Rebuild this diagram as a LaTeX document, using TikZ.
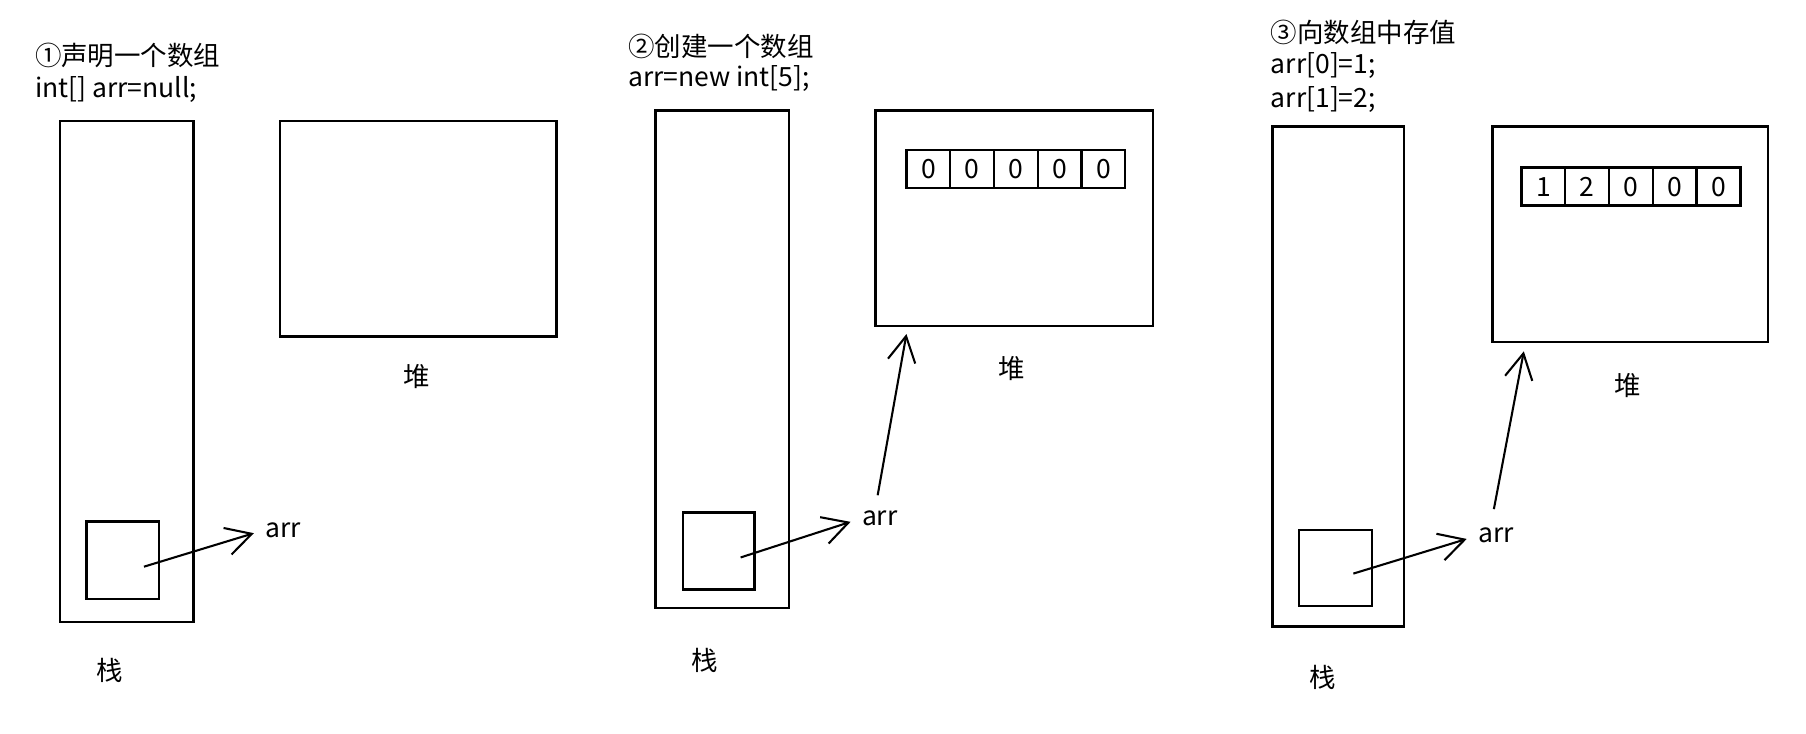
\documentclass[tikz,border=0pt]{standalone}
\usepackage{fontspec}
\setmainfont{Noto Sans CJK SC}
\usetikzlibrary{arrows.meta}
\tikzset{
  box/.style={draw, line width=1.1pt},
  cell/.style={draw, line width=1pt, minimum width=19pt, minimum height=16.5pt, inner sep=0pt, font=\fontsize{11.5}{13}\selectfont, anchor=west},
  ptr/.style={line width=0.9pt, -{Straight Barb[length=11pt,width=12pt,line width=0.9pt]}},
  lbl/.style={font=\fontsize{11.5}{13}\selectfont, inner sep=0pt},
  txt/.style={font=\fontsize{11.5}{13.5}\selectfont, inner sep=0pt, anchor=west},
}
\begin{document}
\begin{tikzpicture}[x=0.5pt,y=-0.5pt]
\useasboundingbox (0,0) rectangle (1568,637);
% panel 1
\node[txt] (t1) at (30,48) {①声明一个数组};
\node[txt] (c1) at (30,78) {int[] arr=null;};
\draw[box] (52,105) rectangle (168,540);
\draw[box] (75,453) rectangle (138,520);
\coordinate (p1) at (125,492);
\node[lbl, anchor=west] (a1) at (230,460) {arr};
\draw[ptr, shorten >=5pt] (p1) -- (a1.west);
\draw[box] (243,105) rectangle (483,292);
\node[lbl] (h1) at (362,327) {堆};
\node[lbl] (s1) at (95,582) {栈};
% panel 2
\node[txt] (t2) at (545,40) {②创建一个数组};
\node[txt] (c2) at (545,68) {arr=new int[5];};
\draw[box] (569,96) rectangle (685,528);
\draw[box] (593,445) rectangle (655,512);
\coordinate (p2) at (643,484);
\node[lbl, anchor=west] (a2) at (748,450) {arr};
\draw[ptr, shorten >=5pt] (p2) -- (a2.west);
\draw[box] (760,96) rectangle (1001,283);
\foreach \i in {0,...,4} \node[cell] (m\i) at (786+38*\i,147) {0};
\coordinate (q2) at (762,430);
\coordinate (r2) at (787,290);
\draw[ptr] (q2) -- (r2);
\node[lbl] (h2) at (878,320) {堆};
\node[lbl] (s2) at (612,573) {栈};
% panel 3
\node[txt] (t3) at (1103,28) {③向数组中存值};
\node[txt] (c3) at (1103,57) {arr[0]=1;};
\node[txt] (d3) at (1103,86) {arr[1]=2;};
\draw[box] (1105,110) rectangle (1219,544);
\draw[box] (1128,460) rectangle (1191,526);
\coordinate (p3) at (1175,498);
\node[lbl, anchor=west] (a3) at (1283,465) {arr};
\draw[ptr, shorten >=5pt] (p3) -- (a3.west);
\draw[box] (1296,110) rectangle (1535,297);
\foreach \v [count=\i from 0] in {1,2,0,0,0} \node[cell] (n\i) at (1320+38*\i,162) {\v};
\coordinate (q3) at (1297,442);
\coordinate (r3) at (1323,305);
\draw[ptr] (q3) -- (r3);
\node[lbl] (h3) at (1413,335) {堆};
\node[lbl] (s3) at (1148,588) {栈};
\end{tikzpicture}
\end{document}
